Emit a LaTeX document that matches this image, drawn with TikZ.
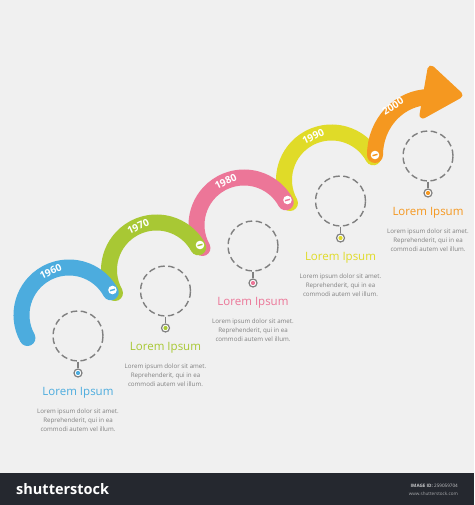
\documentclass[tikz,border=0pt]{standalone}
\usepackage{fontspec}
\setmainfont{Open Sans}
\usetikzlibrary{positioning}

\definecolor{tlblue}{RGB}{76,172,222}
\definecolor{tlgreen}{RGB}{168,200,52}
\definecolor{tlpink}{RGB}{236,118,152}
\definecolor{tlyellow}{RGB}{224,219,40}
\definecolor{tlorange}{RGB}{245,152,32}
\definecolor{tlgray}{RGB}{128,128,128}
\definecolor{tlbg}{RGB}{240,240,240}
\definecolor{tlbar}{RGB}{37,40,47}

\tikzset{
	band/.style={line width=16pt, line cap=round},
	yearlabel/.style={text=white, inner sep=0, font=\bfseries\fontsize{10}{10}\selectfont},
	holder/.style={circle, draw=tlgray, line width=1.4pt, dash pattern=on 6.5pt off 3.5pt, minimum size=50pt, inner sep=0},
	dotmark/.style={circle, draw=tlgray, fill=white, line width=1.2pt, minimum size=8pt, inner sep=0,
		path picture={\fill [#1] (path picture bounding box.center) circle (2.1pt);}},
	headtext/.style={inner sep=0, font=\fontsize{11.5}{13}\selectfont},
	bodytext/.style={text=tlgray, inner sep=0, align=center, font=\fontsize{6.2}{9}\selectfont},
}

\begin{document}
\begin{tikzpicture}[x=1pt,y=1pt]
\useasboundingbox (0,0) rectangle (474,505);
\fill [tlbg] (0,0) rectangle (474,505);
\fill [tlbar] (0,0) rectangle (474,32);

% arcs, back to front
\foreach \n / \col / \yr in {3/tlyellow/1990, 2/tlpink/1980, 1/tlgreen/1970, 0/tlblue/1960}
	{%
		\coordinate (c\n) at (69+87.5*\n, 190+45*\n);
		\draw [band,\col] (c\n) ++(209:47.5) arc [start angle=209, end angle=28.5, radius=47.5];
		\path (c\n) ++(113:47) node [yearlabel,rotate=25] (yr\n) {\yr};
	}

\draw [band,tlorange] (375,350) arc [start angle=180, end angle=90, x radius=55, y radius=58] -- (436,408);
\filldraw [tlorange, line width=7pt, line join=round] (431,436) -- (459,410) -- (423,390) -- cycle;
\node [yearlabel,rotate=32] (yr4) at (393,399) {2000};

\foreach \n / \col in {1/tlblue, 2/tlgreen, 3/tlpink, 4/tlorange}
	{%
		\coordinate (p\n) at (25+87.5*\n, 170+45*\n);
		\fill [white] (p\n) circle (4.3);
		\draw [\col, line width=1.4pt] ([shift={(195:2.6)}]p\n) -- ([shift={(15:2.6)}]p\n);
	}

\foreach \n / \col in {0/tlblue, 1/tlgreen, 2/tlpink, 3/tlyellow, 4/tlorange}
	{%
		\node [holder] (h\n) at (78+87.5*\n, 169+45*\n) {};
		\node [dotmark=\col] (d\n) at ([yshift=-37]h\n.center) {};
		\draw [tlgray, line width=1.4pt] (h\n.south) -- (d\n.north);
		\node [headtext, text=\col] (t\n) at ([yshift=-57]h\n.center) {Lorem Ipsum};
		\node [bodytext] (b\n) at ([yshift=-84]h\n.center) {Lorem ipsum dolor sit amet.\\Reprehenderit, qui in ea\\commodi autem vel illum.};
	}

\node [anchor=west, text=white, inner sep=0, font=\bfseries\fontsize{14.5}{14.5}\selectfont] (logo) at (16,16) {shutterstock};
\node [anchor=east, text=white!75!tlbar, inner sep=0, font=\fontsize{4.6}{4.6}\selectfont] (imgid) at (458,19.5) {\textbf{IMAGE ID:} 259059704};
\node [anchor=east, text=white!60!tlbar, inner sep=0, font=\fontsize{4.6}{4.6}\selectfont] (site) at (458,11.5) {www.shutterstock.com};

\end{tikzpicture}
\end{document}
